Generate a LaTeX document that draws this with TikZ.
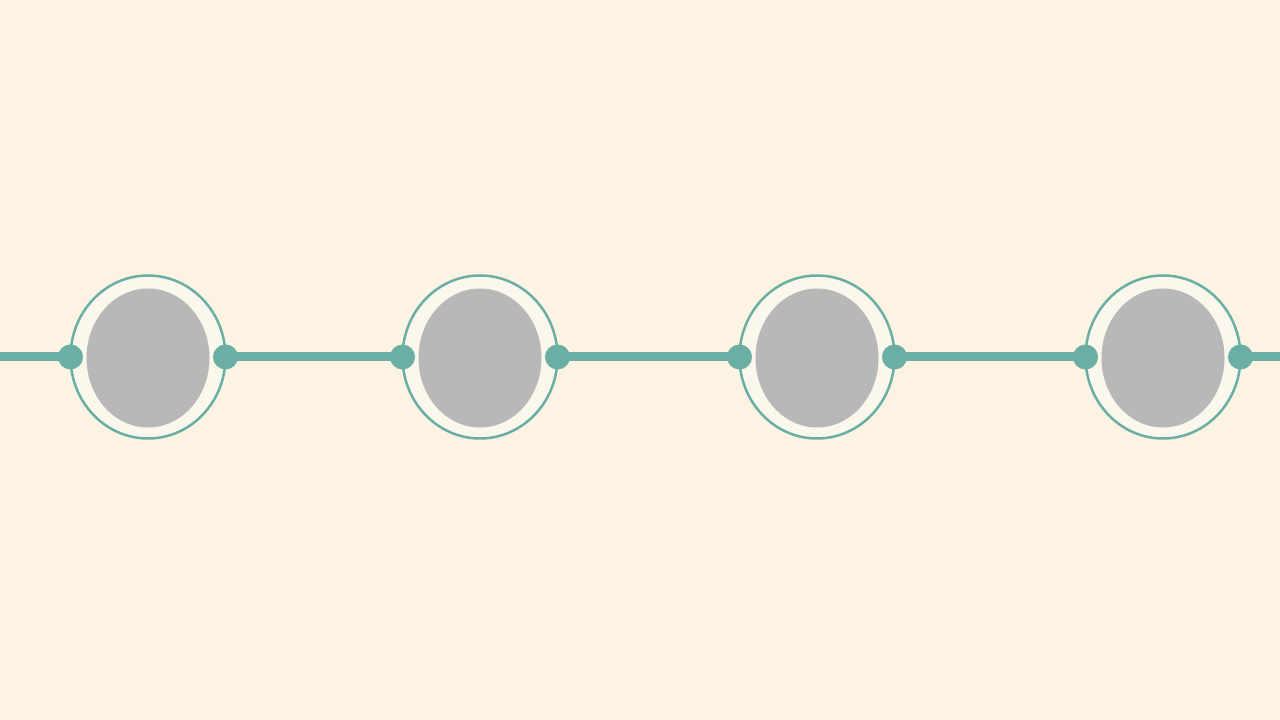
\documentclass[tikz,border=0pt]{standalone}
\usetikzlibrary{shapes.geometric}
\definecolor{mycream}{RGB}{252,243,227}
\definecolor{mypale}{RGB}{251,247,237}
\definecolor{myteal}{RGB}{106,174,164}
\definecolor{mygray}{RGB}{185,184,184}

\begin{document}
\begin{tikzpicture}[x=1pt,y=1pt,
    ring/.style={ellipse,draw=myteal,line width=2.5pt,fill=mypale,
      minimum width=155pt,minimum height=163pt,inner sep=0pt,outer sep=0pt},
    disc/.style={ellipse,fill=mygray,minimum width=123pt,
      minimum height=139pt,inner sep=0pt},
    knob/.style={circle,fill=myteal,minimum size=25pt,inner sep=0pt},
    link/.style={myteal,line width=9pt}]
    \fill[mycream] (0,0) rectangle (1280,720);
    \useasboundingbox (0,0) rectangle (1280,720);

    % ends of the line
    \coordinate (start) at (0,363);
    \coordinate (stop) at (1280,363);

    % four stations
    \foreach \Xc/\Xn in {148/1,480/2,817/3,1163/4}
    {
      \node[ring] (ring\Xn) at (\Xc,363) {};
      \node[disc] (disc\Xn) at (\Xc,362) {};
    }

    % links between the stations
    \draw[link] (start) -- (ring1.west);
    \draw[link] (ring1.east) -- (ring2.west);
    \draw[link] (ring2.east) -- (ring3.west);
    \draw[link] (ring3.east) -- (ring4.west);
    \draw[link] (ring4.east) -- (stop);

    % knobs where the line meets a ring
    \foreach \Xn in {1,...,4}
    {
      \node[knob] (inknob\Xn) at (ring\Xn.west) {};
      \node[knob] (outknob\Xn) at (ring\Xn.east) {};
    }
\end{tikzpicture}
\end{document}
